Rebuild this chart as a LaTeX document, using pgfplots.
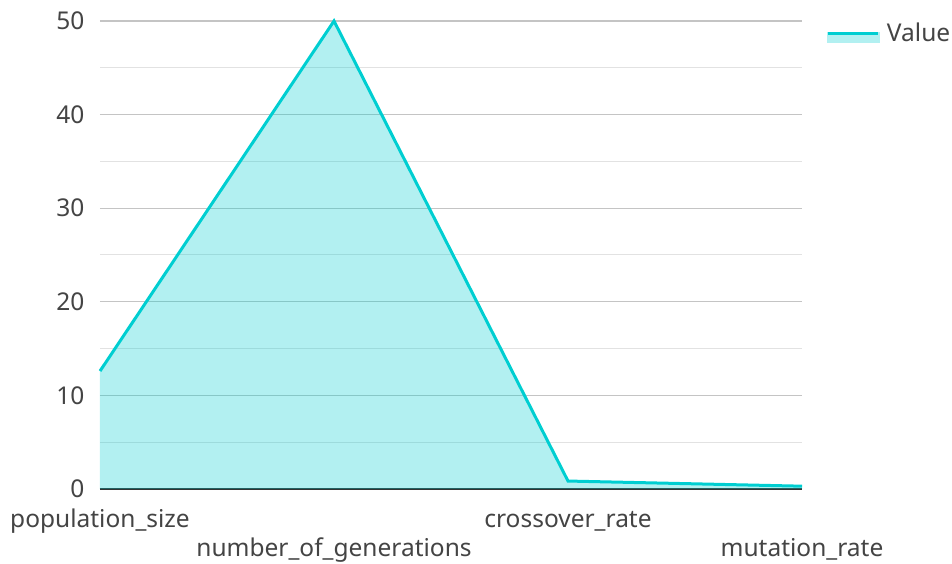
\documentclass[border=0pt]{standalone}
\usepackage{fontspec}
\setmainfont{Noto Sans}
\usepackage{pgfplots}
\pgfplotsset{compat=1.18}
\definecolor{lineC}{RGB}{0,206,209}
\definecolor{txt}{RGB}{68,68,68}
\definecolor{majgrid}{RGB}{196,196,196}
\definecolor{mingrid}{RGB}{226,226,226}
\begin{document}
\begin{tikzpicture}
\begin{axis}[
  scale only axis, width=702pt, height=468pt,
  xmin=0, xmax=3, ymin=0, ymax=50,
  xtick={0,1,2,3},
  xticklabels={population\_size,\raisebox{-30pt}[\height][\depth]{number\_of\_generations},crossover\_rate,\raisebox{-30pt}[\height][\depth]{mutation\_rate}},
  x tick label style={anchor=base, yshift=-38pt, text=txt, font=\fontsize{24.5}{28}\selectfont},
  ytick={0,10,20,30,40,50},
  minor ytick={5,15,25,35,45},
  y tick label style={text=txt, font=\fontsize{24.5}{28}\selectfont, xshift=-12pt},
  /pgf/number format/assume math mode=true,
  ymajorgrids, yminorgrids,
  major grid style={majgrid, line width=1.3pt},
  minor grid style={mingrid, line width=1pt},
  axis x line*=bottom, axis y line*=left,
  y axis line style={draw=none},
  x axis line style={black!80, line width=2pt, -},
  major tick length=0pt, minor tick length=0pt,
  tick style={draw=none},
  clip=false,
  legend style={at={(1.0356,1.0)}, anchor=north west, draw=none, fill=none, font=\fontsize{24.5}{28}\selectfont, text=txt, inner sep=0pt, outer sep=0pt},
  legend image code/.code={
    \fill[lineC!30] (0pt,-8pt) rectangle (50pt,0pt);
    \draw[lineC, line width=3pt] (0pt,0pt) -- (50pt,0pt);
  },
]
\addplot[draw=none, fill=lineC, fill opacity=0.3, forget plot] coordinates {(0,12.6) (1,50) (2,0.85) (3,0.3)} \closedcycle;
\addplot[lineC, line width=3pt] coordinates {(0,12.6) (1,50) (2,0.85) (3,0.3)};
\addlegendentry{\hspace{5pt}Value}
\end{axis}
\pgfresetboundingbox
\path (-100pt,-75pt) rectangle (852pt,489pt);
\end{tikzpicture}
\end{document}
